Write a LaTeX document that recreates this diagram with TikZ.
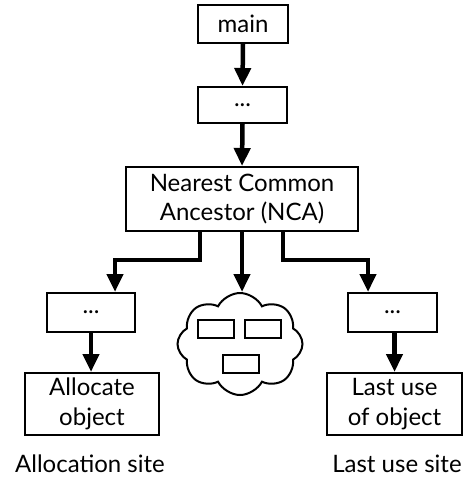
\documentclass[tikz,border=0pt]{standalone}
\usepackage{fontspec}
\setmainfont{Lato}
\usetikzlibrary{arrows.meta,shapes.symbols,calc}
\begin{document}
\begin{tikzpicture}[x=1pt,y=-1pt,
  font=\fontsize{24}{29.5}\selectfont,
  box/.style={draw,line width=2pt,rectangle,inner sep=0pt,align=center},
  link/.style={line width=4.5pt,line join=miter,
    -{Triangle[length=18pt,width=16pt]}},
  slot/.style={draw,line width=1.6pt,rectangle,minimum width=36pt,minimum height=18pt,inner sep=0pt}]
\useasboundingbox (0,0) rectangle (474,482);
% call chain from main to the common ancestor
\node[box,minimum width=90pt,minimum height=38pt] (main) at (243,24) {main};
\node[box,minimum width=89pt,minimum height=36pt] (dots1) at (242.5,105) {...};
\node[box,minimum width=232pt,minimum height=64pt] (nca) at (242,199)
  {Nearest Common\\Ancestor (NCA)};
% the two leaf paths
\node[box,minimum width=88pt,minimum height=39pt] (ldots) at (91,312.5) {...};
\node[box,minimum width=89pt,minimum height=39pt] (rdots) at (392.5,312.5) {...};
\node[box,minimum width=134pt,minimum height=62pt] (alloc) at (92,404)
  {Allocate\\object};
\node[box,minimum width=135pt,minimum height=62pt] (last) at (394.5,404)
  {Last use\\of object};
\node (allocsite) at (90,464) {Allocation site};
\node (lastsite) at (397,464) {Last use site};
% cloud of other calls
\node[cloud,draw,line width=2pt,cloud puffs=8,cloud puff arc=125,aspect=1.2,
  minimum width=125pt,minimum height=102pt,inner sep=0pt] (cloud) at (240,344) {};
\node[slot] (s1) at (216,329) {};
\node[slot] (s2) at (263,329) {};
\node[slot] (s3) at (241,364) {};
% connectors
\draw[link] (main.south) -- (dots1.north);
\draw[link] (dots1.south) -- (nca.north);
\coordinate (lturn) at (115,260);
\coordinate (rturn) at (368,260);
\draw[link] ([xshift=-42pt]nca.south) |- (lturn) -- (lturn |- ldots.north);
\draw[link] ([xshift=41pt]nca.south) |- (rturn) -- (rturn |- rdots.north);
\draw[link] (nca.south) -- (nca.south |- cloud.north);
\draw[link] (ldots.south) -- (ldots.south |- alloc.north);
\draw[link] ([xshift=2pt]rdots.south) -- ([xshift=2pt]rdots.south |- last.north);
\end{tikzpicture}
\end{document}
